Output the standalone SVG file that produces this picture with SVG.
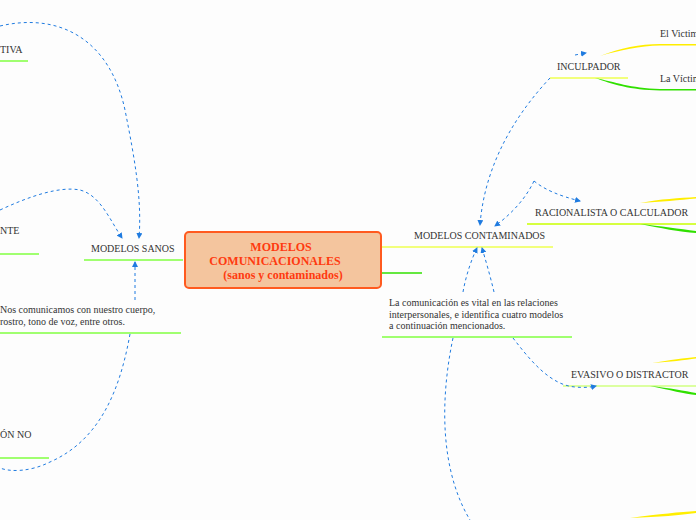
<svg xmlns="http://www.w3.org/2000/svg" width="696" height="520" viewBox="0 0 696 520">
<defs>
<marker id="ar" viewBox="0 0 6 6" refX="5" refY="3" markerWidth="6" markerHeight="6" orient="auto"><path d="M0,0 L6,3 L0,6 z" fill="#1f7be0"/></marker>
<linearGradient id="yg" x1="0" x2="1"><stop offset="0" stop-color="#c8ff40"/><stop offset="1" stop-color="#ffff00"/></linearGradient>
</defs>
<style>
text{font-family:"Liberation Serif",serif;font-size:10px;fill:#333}
.t{font-family:"Liberation Serif",serif;font-size:12px;font-weight:bold;fill:#ff3a10}
.d{fill:none;stroke:#1f7be0;stroke-width:1;stroke-dasharray:3,3}
.g{stroke:#80ff40;stroke-width:1.5}
.y{stroke:#eeff50;stroke-width:1.5}
</style>
<rect width="696" height="520" fill="#fdfdfd"/>
<g id="branches">
<line x1="183" y1="260" x2="84" y2="260" class="g"/>
<line x1="0" y1="61" x2="28" y2="61" class="g"/>
<line x1="0" y1="254" x2="39" y2="254" class="g"/>
<line x1="0" y1="333" x2="181" y2="333" class="g"/>
<line x1="0" y1="458" x2="49" y2="458" class="g"/>
<line x1="381" y1="247" x2="553" y2="247" class="y"/>
<line x1="381" y1="273" x2="422" y2="273" stroke="#30e000" stroke-width="1.5"/>
<line x1="382" y1="337" x2="572" y2="337" class="g"/>
<line x1="550" y1="78" x2="628" y2="78" class="y"/>
<line x1="527" y1="224" x2="696" y2="224" stroke="#c8ff00" stroke-width="1.5"/>
<line x1="563" y1="386" x2="696" y2="386" stroke="#d0ff80" stroke-width="1.5"/>
<path d="M600,56 C620,48 640,44 660,44 L696,44 L696,45.5 L660,45.5 C640,46 620,50 600,56 z" fill="#ffee00"/>
<path d="M595,78 C615,82 630,88 660,89 L696,89 L696,90.5 L660,90.5 C630,90 612,84 595,78 z" fill="#30e000"/>
<path d="M640,203 C660,199 680,198 696,197 L696,198.5 C680,200 660,202 640,203 z" fill="#ffee00"/>
<path d="M640,224 C660,226 680,229 696,231 L696,233 C680,232 660,228 640,224 z" fill="#30e000"/>
<path d="M652,363 C670,360 685,358 696,357 L696,358.5 C685,360 670,362 652,363 z" fill="#ffee00"/>
<path d="M650,386 C670,388 685,391 696,393 L696,395 C685,394 670,390 650,386 z" fill="#30e000"/>
<path d="M630,518 C660,514 680,512 696,511 L696,513 C680,515 660,517 630,518 z" fill="#ffee00"/>
</g>
<g id="connectors">
<path class="d" d="M0,26 C60,12 110,40 125,110 C135,160 142,200 139,238" marker-end="url(#ar)"/>
<path class="d" d="M0,210 C30,196 60,186 80,190 C100,195 110,220 122,238" marker-end="url(#ar)"/>
<path class="d" d="M135,300 L135,262" marker-end="url(#ar)"/>
<path class="d" d="M130,334 C120,390 100,440 50,462 C30,472 10,472 0,468"/>
<path class="d" d="M550,78 C520,110 485,160 480,225" marker-end="url(#ar)"/>
<path class="d" d="M534,181 C525,200 510,215 495,226" marker-end="url(#ar)"/>
<path class="d" d="M534,181 C545,190 560,196 580,201" marker-end="url(#ar)"/>
<path class="d" d="M463,292 C466,275 472,258 477,248" marker-end="url(#ar)"/>
<path class="d" d="M494,292 C490,275 485,258 482,248" marker-end="url(#ar)"/>
<path class="d" d="M513,338 C530,360 550,385 575,387 C585,388 592,387 596,386" marker-end="url(#ar)"/>
<path class="d" d="M453,338 C440,400 440,470 470,520"/>
<path class="d" d="M575,55 L586,53" marker-end="url(#ar)"/>
</g>
<g id="central">
<rect x="185" y="232" width="196" height="56" rx="4" fill="#f4c59e" stroke="#ff5a1f" stroke-width="2"/>
<text class="t" x="281" y="251" text-anchor="middle">MODELOS</text>
<text class="t" x="275" y="265" text-anchor="middle">COMUNICACIONALES</text>
<text class="t" x="283" y="279" text-anchor="middle">(sanos y contaminados)</text>
</g>
<g id="sanos"><text x="91" y="252">MODELOS SANOS</text></g>
<g id="tiva"><text x="0" y="53">TIVA</text></g>
<g id="nte"><text x="0" y="234">NTE</text></g>
<g id="nos"><text x="0" y="313">Nos comunicamos con nuestro cuerpo,</text><text x="0" y="325">rostro, tono de voz, entre otros.</text></g>
<g id="onno"><text x="0" y="438">ÓN NO</text></g>
<g id="contaminados"><text x="414" y="239">MODELOS CONTAMINADOS</text></g>
<g id="lacom"><text x="389" y="306">La comunicación es vital en las relaciones</text><text x="389" y="318">interpersonales, e identifica cuatro modelos</text><text x="389" y="329">a continuación mencionados.</text></g>
<g id="inculpador"><text x="557" y="70">INCULPADOR</text></g>
<g id="victima1"><text x="660" y="37">El Victim</text></g>
<g id="victima2"><text x="660" y="82">La Víctim</text></g>
<g id="racionalista"><text x="535" y="216">RACIONALISTA O CALCULADOR</text></g>
<g id="evasivo"><text x="571" y="378">EVASIVO O DISTRACTOR</text></g>
</svg>
